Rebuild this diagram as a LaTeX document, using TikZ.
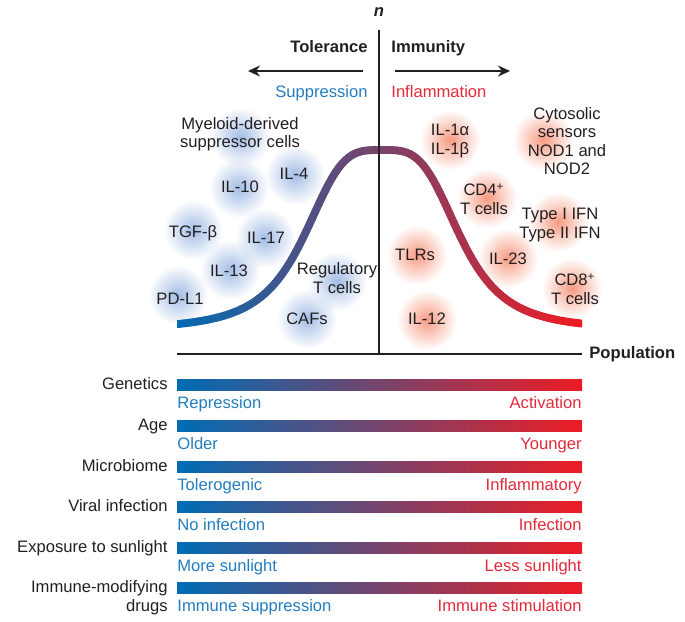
\documentclass[tikz,border=0pt]{standalone}
\usepackage{fontspec}
\setmainfont{Liberation Sans}
\usetikzlibrary{arrows.meta,fadings}

\definecolor{tolblue}{RGB}{0,108,180}
\definecolor{immred}{RGB}{237,28,36}
\definecolor{supblue}{RGB}{35,125,190}
\definecolor{infred}{RGB}{226,42,58}
\definecolor{blobblue}{RGB}{140,172,222}
\definecolor{blobred}{RGB}{244,130,100}
\definecolor{inkgray}{RGB}{35,31,32}

\tikzfading[name=blobfade, inner color=transparent!20, outer color=transparent!100]

\begin{document}
\begin{tikzpicture}[
		x=0.5pt, y=-0.5pt,
		every node/.style={font=\fontsize{8.3}{9.2}\selectfont, text=inkgray, inner sep=0pt},
		lbl/.style={text height=6pt, text depth=1.7pt},
		two line/.style={align=center},
		hdr/.style={lbl, font=\fontsize{8.3}{9.2}\selectfont\bfseries},
		axis line/.style={line width=0.9pt, draw=inkgray},
		big arrow/.style={line width=1.3pt, draw=inkgray, -{Stealth[length=6pt,width=5.5pt]}},
		blue blob/.style={fill=blobblue, path fading=blobfade},
		red blob/.style={fill=blobred, path fading=blobfade},
		curve seg/.style={line width=3.9pt, line cap=round},
		bar/.style={left color=tolblue, right color=immred},
		cat/.style={lbl, anchor=east},
		lo/.style={lbl, anchor=west, text=supblue},
		hi/.style={lbl, anchor=east, text=infred}
		]

	\useasboundingbox (0,0) rectangle (685,621);

	% Blobs behind the labels
	\foreach \x/\y in {240/137, 239/188, 295/175, 193/230, 265/238, 230/270, 178/295, 337/281, 307/319}{
		\fill[blue blob] (\x,\y) circle (30);
	}
	\foreach \x/\y in {450/140, 543/140, 487/198, 558/222, 417/255, 508/258, 572/288, 427/320}{
		\fill[red blob] (\x,\y) circle (30);
	}

	% Bell curve
	\begin{scope}
		\clip (177,0) rectangle (582,400);
		\foreach \i in {0,...,119}{
			\pgfmathsetmacro\xa{177+\i*3.375}
			\pgfmathsetmacro\xb{\xa+3.375}
			\pgfmathsetmacro\da{abs(\xa-382)/80}
			\pgfmathsetmacro\db{abs(\xb-382)/80}
			\pgfmathsetmacro\ya{330-180/(1+\da^3.6)}
			\pgfmathsetmacro\yb{330-180/(1+\db^3.6)}
			\pgfmathtruncatemacro\mix{100-\i*0.8403}
			\draw[curve seg, color=tolblue!\mix!immred] (\xa,\ya) -- (\xb,\yb);
		}
	\end{scope}

	% Axes
	\coordinate (top) at (379,30);
	\coordinate (foot) at (379,355);
	\coordinate (xstart) at (177,354);
	\coordinate (xend) at (582,354);
	\draw[axis line] (top) -- (foot);
	\draw[axis line] (xstart) -- (xend);
	\node (n) at (379,12) {\textbf{\textit{n}}};
	\node[hdr, anchor=west] (pop) at (589,354) {Population};

	% Header
	\node[hdr, anchor=east] (tol) at (368,48) {Tolerance};
	\node[hdr, anchor=west] (imm) at (391,48) {Immunity};
	\coordinate (tolA) at (363,71);
	\coordinate (tolB) at (248,71);
	\coordinate (immA) at (395,71);
	\coordinate (immB) at (510,71);
	\draw[big arrow] (tolA) -- (tolB);
	\draw[big arrow] (immA) -- (immB);
	\node[lbl, anchor=east, text=supblue] (sup) at (368,93) {Suppression};
	\node[lbl, anchor=west, text=infred] (infl) at (391,93) {Inflammation};

	% Tolerance side
	\node[two line] (mdsc) at (240,134) {Myeloid-derived\\suppressor cells};
	\node[lbl] (il10) at (240,188) {IL-10};
	\node[lbl] (il4) at (294,175) {IL-4};
	\node[lbl] (tgfb) at (193,233) {TGF-β};
	\node[lbl] (il17) at (266,239) {IL-17};
	\node[lbl] (il13) at (229,272) {IL-13};
	\node[lbl] (pdl1) at (180,300) {PD-L1};
	\node[two line] (treg) at (337,278) {Regulatory\\T cells};
	\node[lbl] (cafs) at (307,320) {CAFs};

	% Immunity side
	\node[two line] (il1) at (450,141) {IL-1α\\IL-1β};
	\node[two line] (nod) at (567,141) {Cytosolic\\sensors\\NOD1 and\\NOD2};
	\node[two line] (cd4) at (484,199) {CD4\textsuperscript{+}\\T cells};
	\node[two line] (ifn) at (560,225) {Type I IFN\\Type II IFN};
	\node[lbl] (tlr) at (415,256) {TLRs};
	\node[lbl] (il23) at (508,260) {IL-23};
	\node[two line] (cd8) at (575,289) {CD8\textsuperscript{+}\\T cells};
	\node[lbl] (il12) at (427,320) {IL-12};

	% Factor bars
	\foreach \y/\cat/\lo/\hi in {385/Genetics/Repression/Activation, 426/Age/Older/Younger, 467/Microbiome/Tolerogenic/Inflammatory, 507/Viral infection/No infection/Infection, 548/Exposure to sunlight/More sunlight/Less sunlight, 588/Immune-modifying/Immune suppression/Immune stimulation}{
		\shade[bar] (177,\y-5.5) rectangle (582,\y+5.5);
		\node[cat] (cat\y) at (168,\y) {\cat};
		\node[lo] (lo\y) at (177,\y+19) {\lo};
		\node[hi] (hi\y) at (582,\y+19) {\hi};
	}
	\node[cat] (drugs) at (168,607) {drugs};

\end{tikzpicture}
\end{document}
